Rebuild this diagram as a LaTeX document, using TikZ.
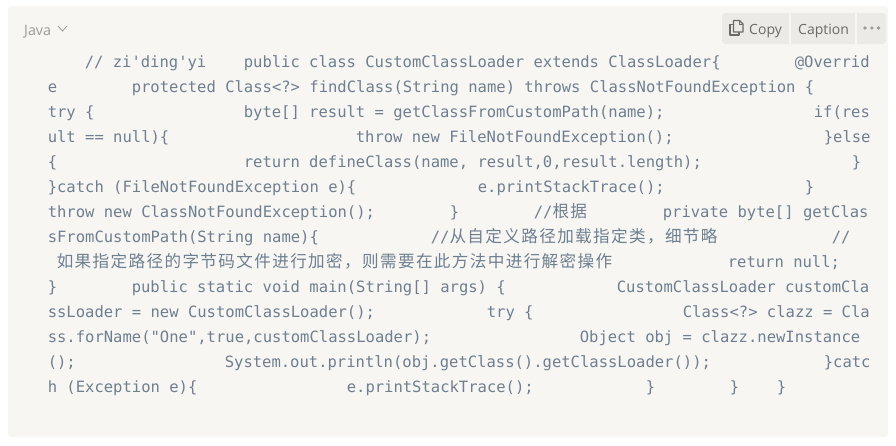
\documentclass[tikz,border=0pt]{standalone}
\usepackage{fontspec}
\setmainfont{Open Sans}
\newfontfamily\codefont{DejaVu Sans Mono}
\newfontfamily\cjkfont[LetterSpace=8.2]{Noto Sans CJK SC}
\definecolor{panelbg}{HTML}{F7F6F3}
\definecolor{btnbg}{HTML}{EBEAE6}
\definecolor{codeink}{HTML}{6F7F90}
\definecolor{uiink}{HTML}{6B6A66}
\definecolor{langink}{HTML}{9B9A97}
\newcommand\cj[1]{{\fontsize{16.6}{20}\cjkfont #1}}
\newcommand\seg[3]{\node[codetxt] (s#1-#2) at (#1-.4,#2-.8) {#3};}
\tikzset{
  x=1pt,y=-1pt,
  codetxt/.style={anchor=base west,inner sep=0pt,text=codeink,font=\fontsize{15.53}{20}\codefont},
  uitxt/.style={anchor=base west,inner sep=0pt,text=uiink,font=\fontsize{14}{18}\selectfont},
}
\begin{document}
\begin{tikzpicture}
\useasboundingbox (0,0) rectangle (896,445);
\fill[white] (0,0) rectangle (896,445);
\fill[panelbg,rounded corners=3pt] (8,6) rectangle (888,437);
% toolbar
\fill[btnbg,rounded corners=3pt] (722,13) rectangle (886,44);
\fill[panelbg] (789,13) rectangle (791,44);
\fill[panelbg] (855,13) rectangle (857,44);
\node[anchor=base west,inner sep=0pt,text=langink,font=\fontsize{14.3}{16}\selectfont] (lang) at (24,35) {Java};
\draw[langink,line width=.8pt] (58,26) -- (62.5,31) -- (67,26);
\draw[uiink,line width=1.2pt,line join=round] (733,24.5) -- (730,24.5) -- (730,35) -- (739,35) -- (739,32);
\draw[uiink,line width=1.2pt,line join=round,fill=btnbg] (733.5,32) -- (733.5,20.5) -- (739.5,20.5) -- (743,24) -- (743,32) -- cycle;
\draw[uiink,line width=.8pt] (739.5,20.5) -- (739.5,24) -- (743,24);
\node[uitxt] (copy) at (749,34.5) {Copy};
\node[uitxt] (caption) at (798,34.5) {Caption};
\fill[langink] (865,28) circle (1.8) (871.8,28) circle (1.8) (878.5,28) circle (1.8);
% code
\seg{85}{68}{// zi'ding'yi}
\seg{244}{68}{public class CustomClassLoader extends ClassLoader\{}
\seg{795}{68}{@Overrid}
\seg{48}{93}{e}
\seg{132}{93}{protected Class<?> findClass(String name) throws ClassNotFoundException \{}
\seg{48}{118}{try \{}
\seg{244}{118}{byte[] result = getClassFromCustomPath(name);}
\seg{814}{118}{if(res}
\seg{48}{143}{ult == null)\{}
\seg{356}{143}{throw new FileNotFoundException();}
\seg{824}{143}{\}else}
\seg{48}{168}{\{}
\seg{244}{168}{return defineClass(name, result,0,result.length);}
\seg{852}{168}{\}}
\seg{48}{193}{\}catch (FileNotFoundException e)\{}
\seg{478}{193}{e.printStackTrace();}
\seg{805}{193}{\}}
\seg{48}{218}{throw new ClassNotFoundException();}
\seg{450}{218}{\}}
\seg{534}{218}{//\cj{根据}}
\seg{663}{218}{private byte[] getClas}
\seg{48}{243}{sFromCustomPath(String name)\{}
\seg{431}{243}{//\cj{从自定义路径加载指定类，细节略}}
\seg{832}{243}{//}
\seg{57}{268}{\cj{如果指定路径的字节码文件进行加密，则需要在此方法中进行解密操作}}
\seg{728}{268}{return null;}
\seg{48}{293}{\}}
\seg{132}{293}{public static void main(String[] args) \{}
\seg{617}{293}{CustomClassLoader customCla}
\seg{48}{318}{ssLoader = new CustomClassLoader();}
\seg{487}{318}{try \{}
\seg{683}{318}{Class<?> clazz = Cla}
\seg{48}{343}{ss.forName("One",true,customClassLoader);}
\seg{580}{343}{Object obj = clazz.newInstance}
\seg{48}{368}{();}
\seg{225}{368}{System.out.println(obj.getClass().getClassLoader());}
\seg{824}{368}{\}catc}
\seg{48}{393}{h (Exception e)\{}
\seg{347}{393}{e.printStackTrace();}
\seg{646}{393}{\}}
\seg{730}{393}{\}}
\seg{777}{393}{\}}
\end{tikzpicture}
\end{document}
